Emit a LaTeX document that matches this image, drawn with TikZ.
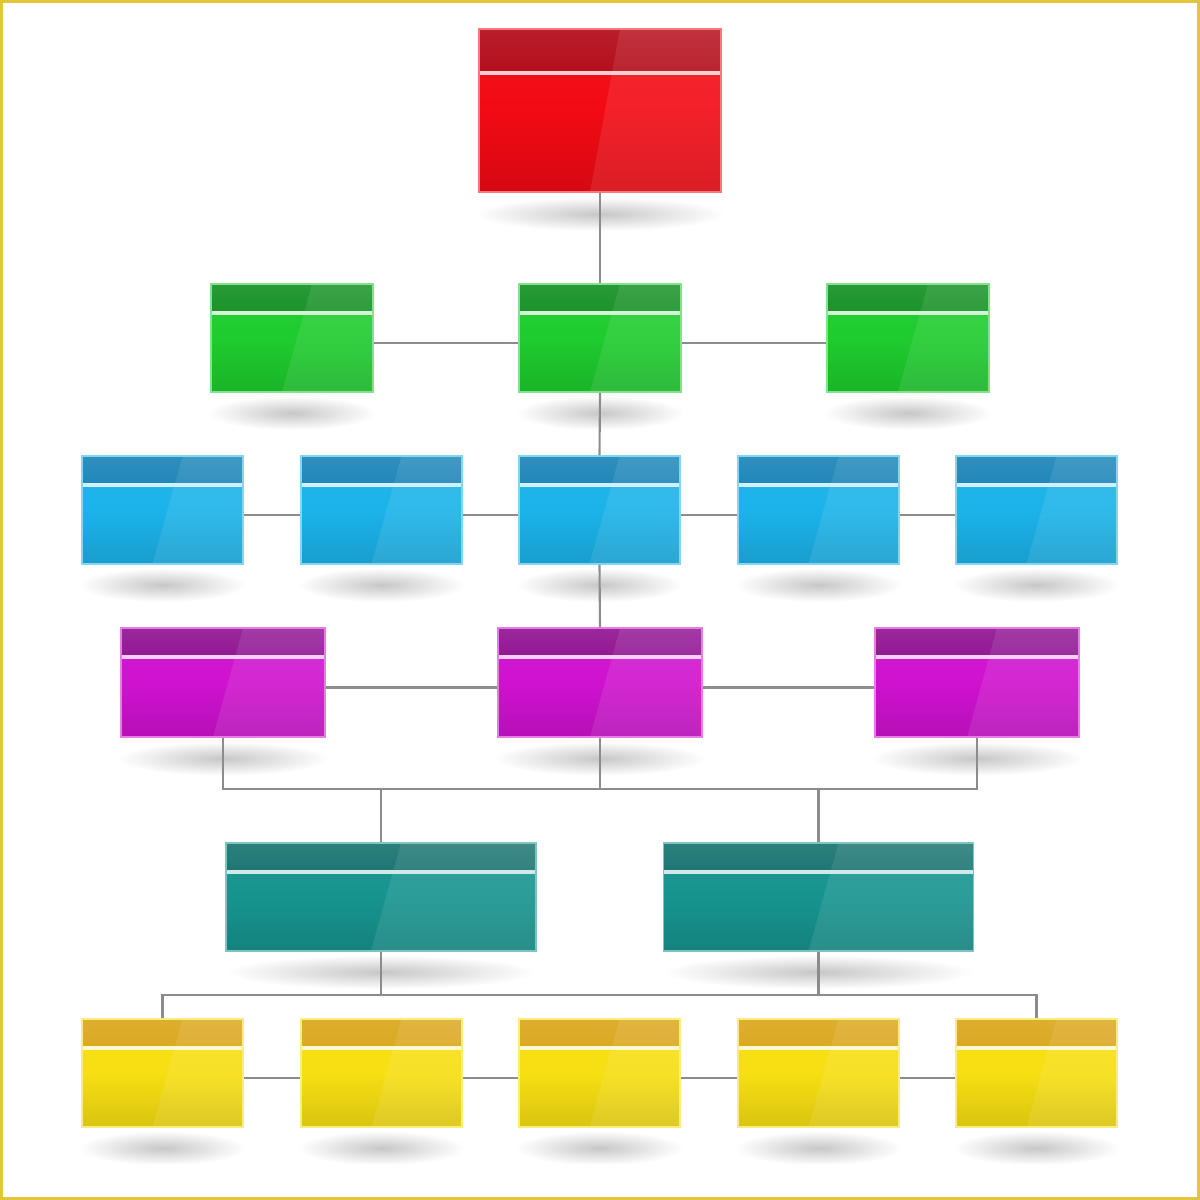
\documentclass[tikz,border=0pt]{standalone}
\usetikzlibrary{positioning,calc}

\definecolor{redbody}{HTML}{F20A14}
\definecolor{redhead}{HTML}{B0000E}
\definecolor{greenbody}{HTML}{1ECC2E}
\definecolor{greenhead}{HTML}{0C8C1C}
\definecolor{bluebody}{HTML}{1BB3EA}
\definecolor{bluehead}{HTML}{1380B5}
\definecolor{magbody}{HTML}{CF12CF}
\definecolor{maghead}{HTML}{8C0A8E}
\definecolor{tealbody}{HTML}{17948F}
\definecolor{tealhead}{HTML}{0F6E6A}
\definecolor{yelbody}{HTML}{F7DF12}
\definecolor{yelhead}{HTML}{D9A313}
\definecolor{linkgray}{HTML}{8C8C8C}
\definecolor{framegold}{HTML}{E2C53A}

\tikzset{
  card/.style n args={3}{% body, header, header height
    rectangle, inner sep=0pt, draw=#1!55!white, line width=0.5pt,
    top color=#1!96!white, bottom color=#1!88!black, middle color=#1,
    path picture={
      \shade[top color=#2!88!white, bottom color=#2!90!black, middle color=#2]
        (path picture bounding box.north west) rectangle ([yshift=-#3]path picture bounding box.north east);
      \fill[white, opacity=0.09]
        ([xshift=0.2cm]path picture bounding box.north) -- (path picture bounding box.north east)
        -- (path picture bounding box.south east) -- ([xshift=-0.1cm]path picture bounding box.south) -- cycle;
      \draw[white!80!#1, line width=0.9pt]
        ([yshift=-#3]path picture bounding box.north west) -- ([yshift=-#3]path picture bounding box.north east);
    }
  },
  blob/.style={inner color=black!22, outer color=white},
  link/.style={draw=linkgray, line width=0.6pt},
}

\begin{document}
\begin{tikzpicture}[x=0.01cm, y=-0.01cm]
   \useasboundingbox (0,0) rectangle (1200,1200);
   \fill[white] (0,0) rectangle (1200,1200);
   \draw[framegold, line width=0.9pt] (1.5,1.5) rectangle (1198.5,1198.5);

   % top
   \shade[blob] (600,214) ellipse [x radius=1.25cm, y radius=0.17cm];
   \node[card={redbody}{redhead}{0.44cm}, minimum width=2.42cm, minimum height=1.63cm] (R) at (600,110.5) {};

   % row 2
   \def\dy{338};
   \def\w{1.62};
   \foreach \x/\id in {292/G1, 600/G2, 908/G3} {
      \shade[blob] (\x,\dy+75) ellipse [x radius=\w*0.52cm, y radius=0.17cm];
      \node[card={greenbody}{greenhead}{0.29cm}, minimum width=\w cm, minimum height=1.08cm] (\id) at (\x,\dy) {};
   }

   % row 3
   \def\dy{510};
   \def\w{1.61};
   \foreach \x/\id in {162.5/B1, 381.5/B2, 599.5/B3, 818.5/B4, 1036.5/B5} {
      \shade[blob] (\x,\dy+75) ellipse [x radius=\w*0.52cm, y radius=0.17cm];
      \node[card={bluebody}{bluehead}{0.29cm}, minimum width=\w cm, minimum height=1.08cm] (\id) at (\x,\dy) {};
   }

   % row 4
   \def\dy{682.5};
   \def\w{2.04};
   \foreach \x/\id in {223/M1, 600/M2, 977/M3} {
      \shade[blob] (\x,\dy+76) ellipse [x radius=\w*0.52cm, y radius=0.17cm];
      \node[card={magbody}{maghead}{0.29cm}, minimum width=\w cm, minimum height=1.09cm] (\id) at (\x,\dy) {};
   }

   % row 5
   \def\dy{897};
   \def\w{3.10};
   \foreach \x/\id in {381/T1, 818.5/T2} {
      \shade[blob] (\x,\dy+75) ellipse [x radius=\w*0.5cm, y radius=0.17cm];
      \node[card={tealbody}{tealhead}{0.29cm}, minimum width=\w cm, minimum height=1.08cm] (\id) at (\x,\dy) {};
   }

   % row 6
   \def\dy{1073};
   \def\w{1.61};
   \foreach \x/\id in {162.5/Y1, 381.5/Y2, 599.5/Y3, 818.5/Y4, 1036.5/Y5} {
      \shade[blob] (\x,\dy+75) ellipse [x radius=\w*0.52cm, y radius=0.17cm];
      \node[card={yelbody}{yelhead}{0.29cm}, minimum width=\w cm, minimum height=1.08cm] (\id) at (\x,\dy) {};
   }

   % links
   \coordinate (bus1) at (600,789);
   \coordinate (bus2) at (600,995);

   \draw[link] (R.south) -- (G2.north);
   \draw[link] (G2.south) -- (B3.north);
   \draw[link] (B3.south) -- (M2.north);
   \foreach \a/\b in {G1/G2, G2/G3, B1/B2, B2/B3, B3/B4, B4/B5, M1/M2, M2/M3, Y1/Y2, Y2/Y3, Y3/Y4, Y4/Y5}
      \draw[link] ([yshift=-0.5mm]\a.east) -- ([yshift=-0.5mm]\b.west);

   \draw[link] (M1.south) -- (M1.south |- bus1) -| (M3.south);
   \draw[link] (M2.south) -- (bus1);
   \draw[link] (T1.north) -- (T1.north |- bus1);
   \draw[link] (T2.north) -- (T2.north |- bus1);

   \draw[link] (Y1.north) -- (Y1.north |- bus2) -| (Y5.north);
   \draw[link] (T1.south) -- (T1.south |- bus2);
   \draw[link] (T2.south) -- (T2.south |- bus2);
\end{tikzpicture}
\end{document}
